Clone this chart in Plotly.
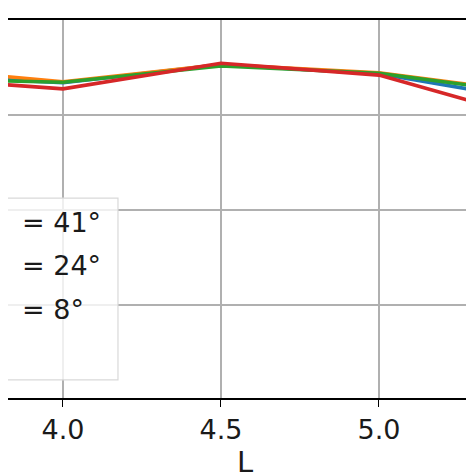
import plotly.graph_objects as go

L = [3.5, 4.0, 4.5, 5.0, 5.5]
blue = [1.085, 1.068, 1.106, 1.087, 1.030]
orange = [1.100, 1.070, 1.106, 1.089, 1.046]
green = [1.076, 1.069, 1.103, 1.088, 1.044]
red = [1.079, 1.055, 1.109, 1.084, 0.990]
legend_labels = ["= 41°", "= 24°", "= 8°"]

fig = go.Figure()
for ys, c in [(blue, "#1f77b4"), (orange, "#ff7f0e"), (green, "#2ca02c"), (red, "#d62728")]:
    fig.add_trace(go.Scatter(x=L, y=ys, mode="lines", line=dict(color=c, width=3.6)))

# legend box (partly outside the visible area)
fig.add_shape(type="rect", xref="paper", yref="paper", x0=-0.05, x1=0.232, y0=0.048, y1=0.529,
              line=dict(color="#d9d9d9", width=1.2), fillcolor="rgba(255,255,255,0.8)", layer="above")
for i, t in enumerate(legend_labels):
    fig.add_annotation(x=0.025, y=0.465 - i * 0.115, xref="paper", yref="paper", text=t, showarrow=False,
                       xanchor="left", yanchor="middle", font=dict(size=27, color="#1a1a1a"))

fig.update_xaxes(range=[3.826, 5.326], tickvals=[4.0, 4.5, 5.0], ticktext=["4.0", "4.5", "5.0"],
                 showgrid=True, gridcolor="#b0b0b0", gridwidth=1.5, showline=True, linecolor="black",
                 linewidth=1.5, mirror=True, ticks="outside", ticklen=7, tickcolor="black",
                 tickfont=dict(size=27, color="#1a1a1a"), zeroline=False, automargin=False,
                 title=dict(text="L", font=dict(size=29, color="#1a1a1a"), standoff=6))
fig.update_yaxes(range=[0.4042, 1.2], tickvals=[0.6, 0.8, 1.0], showticklabels=False,
                 showgrid=True, gridcolor="#b0b0b0", gridwidth=1.5, zeroline=False, automargin=False)
fig.update_layout(width=474, height=474, margin=dict(l=0, r=0, t=12, b=84, pad=0), showlegend=False,
                  plot_bgcolor="white", paper_bgcolor="white", font=dict(family="DejaVu Sans"))
fig.write_html("out.html")
